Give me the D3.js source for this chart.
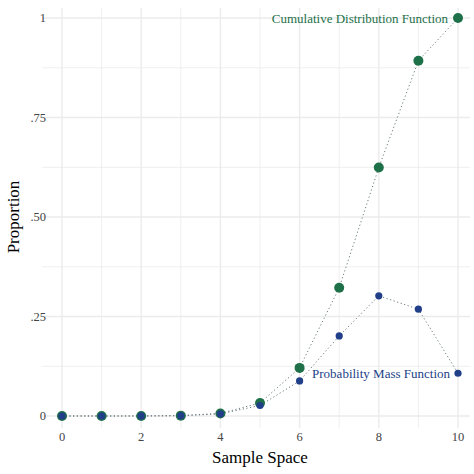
<!DOCTYPE html><html><head><script src="https://cdn.jsdelivr.net/npm/d3@7"></script>
<style>body{margin:0;background:#fff}text{font-family:"Liberation Serif","DejaVu Serif",serif}</style></head><body>
<svg id="c" width="474" height="474"></svg>
<script>
const xs=[0,1,2,3,4,5,6,7,8,9,10];
const pmf=[0.0000001,0.000004,0.00007,0.0008,0.0055,0.0264,0.0881,0.2013,0.3020,0.2684,0.1074];
const cdf=[0.0000001,0.000004,0.00008,0.0009,0.0064,0.0328,0.1209,0.3222,0.6242,0.8926,1.0];
const yTicks=[0,0.25,0.5,0.75,1];
const yLabels=["0",".25",".50",".75","1"];
const xTicks=[0,2,4,6,8,10];
const svg=d3.select("#c");
const x=d3.scaleLinear().domain([0,10]).range([62,458]);
const y=d3.scaleLinear().domain([0,1]).range([416,18]);
const g=svg.append("g");
const x0=42,x1=470,y0=428,y1=8;
d3.range(0,11,1).forEach(v=>g.append("line").attr("x1",x(v)).attr("x2",x(v)).attr("y1",y0).attr("y2",y1).attr("stroke","#ebebeb").attr("stroke-width",v%2?0.8:1.4));
d3.range(0,1.01,0.125).forEach(v=>g.append("line").attr("y1",y(v)).attr("y2",y(v)).attr("x1",x0).attr("x2",x1).attr("stroke","#ebebeb").attr("stroke-width",(Math.round(v*8)%2)?0.8:1.4));
const line=d3.line().x((d,i)=>x(xs[i])).y(d=>y(d));
[cdf,pmf].forEach(s=>g.append("path").attr("d",line(s)).attr("fill","none").attr("stroke","#6a7a80").attr("stroke-width",1).attr("stroke-dasharray","1.2,2.5"));
g.selectAll(".c").data(cdf).join("circle").attr("cx",(d,i)=>x(xs[i])).attr("cy",d=>y(d)).attr("r",5).attr("fill","#1e7048");
g.selectAll(".p").data(pmf).join("circle").attr("cx",(d,i)=>x(xs[i])).attr("cy",d=>y(d)).attr("r",3.6).attr("fill","#213f88");
g.append("text").attr("x",x(10)-10).attr("y",y(1)+5).attr("text-anchor","end").attr("font-size",13).attr("fill","#1e7048").text("Cumulative Distribution Function");
g.append("text").attr("x",x(10)-8).attr("y",y(pmf[10])+5).attr("text-anchor","end").attr("font-size",13).attr("fill","#213f88").text("Probability Mass Function");
xTicks.forEach(v=>g.append("text").attr("x",x(v)).attr("y",441).attr("text-anchor","middle").attr("font-size",12.5).attr("fill","#444").text(v));
yTicks.forEach((v,i)=>g.append("text").attr("x",46).attr("y",y(v)+4).attr("text-anchor","end").attr("font-size",12.5).attr("fill","#444").text(yLabels[i]));
g.append("text").attr("x",260).attr("y",463).attr("text-anchor","middle").attr("font-size",17).text("Sample Space");
g.append("text").attr("transform","translate(19,217) rotate(-90)").attr("text-anchor","middle").attr("font-size",17).text("Proportion");
</script></body></html>
